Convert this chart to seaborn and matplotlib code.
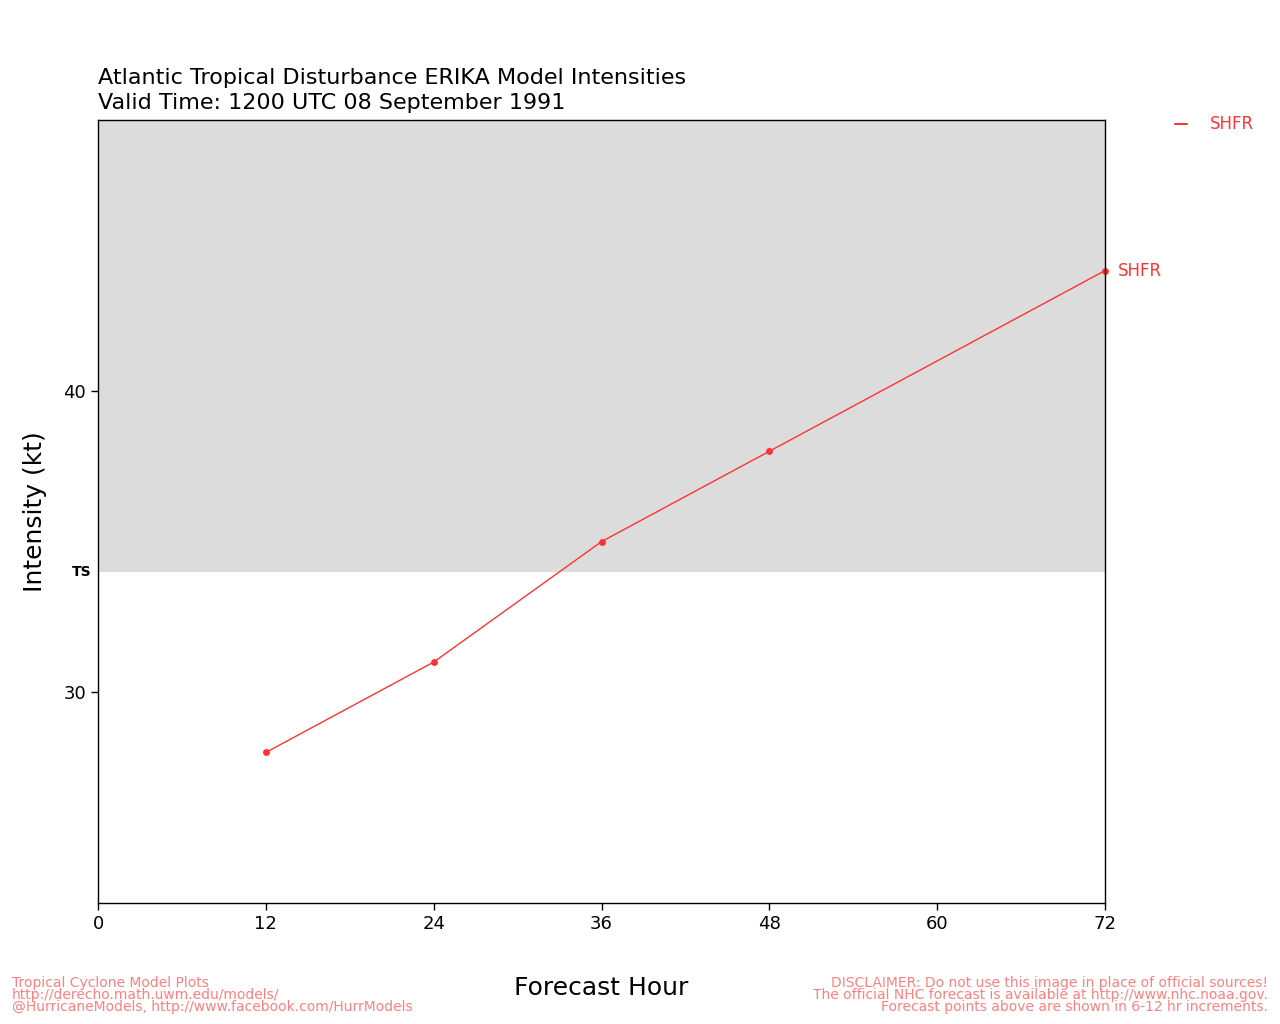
import matplotlib
matplotlib.use("Agg")
import matplotlib.pyplot as plt
from matplotlib.lines import Line2D
import seaborn as sns
import pandas as pd

# forecast data
hours = [12, 24, 36, 48, 72]
shfr = [28, 31, 35, 38, 44]
model_name = "SHFR"
x_ticks = [0, 12, 24, 36, 48, 60, 72]
y_ticks = [30, 40]
ts_threshold = 34
y_min, y_max = 23, 49

red = "#ff3333"

sns.set_style("ticks")
plt.rcParams["font.family"] = ["DejaVu Sans"]
plt.rcParams["text.color"] = "black"
plt.rcParams["axes.labelcolor"] = "black"
plt.rcParams["xtick.color"] = "black"
plt.rcParams["ytick.color"] = "black"

df = pd.DataFrame({"hour": hours, "kt": shfr})

fig = plt.figure(figsize=(12.8, 10.24), dpi=100)
ax = fig.add_axes([0.0766, 0.1182, 0.7867, 0.7646])

ax.axhspan(ts_threshold, y_max, color="#dcdcdc", zorder=0, lw=0)
sns.lineplot(data=df, x="hour", y="kt", ax=ax, color=red, lw=1,
             marker="o", markersize=5, markeredgewidth=0, clip_on=False)

ax.set_xlim(0, 72)
ax.set_ylim(y_min, y_max)
ax.set_xticks(x_ticks)
ax.set_yticks(y_ticks)
ax.tick_params(labelsize=13, direction="out", length=5, width=1, color="black")
for s in ax.spines.values():
    s.set_visible(True)
    s.set_color("black")
    s.set_linewidth(1)
ax.set_xlabel("")
ax.set_ylabel("Intensity (kt)", fontsize=18, labelpad=12)

ax.text(-0.5, ts_threshold, "TS", ha="right", va="center", fontsize=10,
        fontweight="bold", transform=ax.transData)

# label at the end of the line
ax.annotate(model_name, xy=(hours[-1], shfr[-1]), xytext=(9, 0),
            textcoords="offset points", color=red, fontsize=12,
            va="center", ha="left", annotation_clip=False)

# legend entry in top right corner
ly = 1 - 124 / 1024
fig.add_artist(Line2D([1175 / 1280, 1187 / 1280], [ly, ly], color=red, lw=1.5,
                      transform=fig.transFigure))
fig.text(1210 / 1280, ly, model_name, color=red, fontsize=12,
         ha="left", va="center")

fig.text(98 / 1280, 1 - 78 / 1024, "Atlantic Tropical Disturbance ERIKA Model Intensities",
         fontsize=16, ha="left", va="center")
fig.text(98 / 1280, 1 - 103 / 1024, "Valid Time: 1200 UTC 08 September 1991",
         fontsize=16, ha="left", va="center")

fig.text(601 / 1280, 1 - 988 / 1024, "Forecast Hour", fontsize=18,
         ha="center", va="center")

foot_left = ["Tropical Cyclone Model Plots",
             "http://derecho.math.uwm.edu/models/",
             "@HurricaneModels, http://www.facebook.com/HurrModels"]
foot_right = ["DISCLAIMER: Do not use this image in place of official sources!",
              "The official NHC forecast is available at http://www.nhc.noaa.gov.",
              "Forecast points above are shown in 6-12 hr increments."]
for i, line in enumerate(foot_left):
    fig.text(12 / 1280, 1 - (983 + 12 * i) / 1024, line, color="#ff8080",
             fontsize=10, ha="left", va="center")
for i, line in enumerate(foot_right):
    fig.text(1268 / 1280, 1 - (983 + 12 * i) / 1024, line, color="#ff8080",
             fontsize=10, ha="right", va="center")

fig.savefig("out.png", dpi=100)
